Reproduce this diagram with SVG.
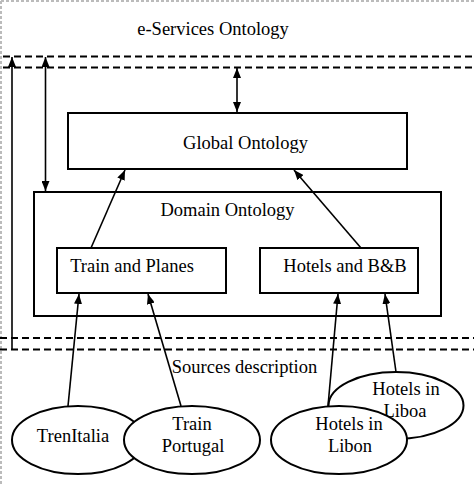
<svg xmlns="http://www.w3.org/2000/svg" width="474" height="485" viewBox="0 0 474 485">
<defs>
<marker id="ah" viewBox="0 0 10 8" refX="10" refY="4" markerWidth="10" markerHeight="8" markerUnits="userSpaceOnUse" orient="auto-start-reverse">
<path d="M0,0 L10,4 L0,8 z" fill="#000"/>
</marker>
<style>
text{font-family:"Liberation Serif","Times New Roman",serif;font-size:18.5px;fill:#000;text-anchor:middle}
.box{fill:#fff;stroke:#000;stroke-width:2}
.ell{fill:#fff;stroke:#000;stroke-width:2}
.dash{stroke:#000;stroke-width:2;stroke-dasharray:7 4;fill:none}
.border{stroke:#bbb;stroke-width:2;stroke-dasharray:3 2;fill:none}
.c{stroke:#000;stroke-width:1.6;fill:none}
</style>
</defs>
<rect width="474" height="485" fill="#fff"/>
<g id="frame">
<line class="border" x1="1" y1="1" x2="474" y2="1"/>
<line class="border" x1="1" y1="1" x2="1" y2="485"/>
</g>
<g id="layers">
<line class="dash" x1="3" y1="56.5" x2="474" y2="56.5"/>
<line class="dash" x1="3" y1="67.5" x2="474" y2="67.5"/>
<line class="dash" x1="0" y1="338" x2="474" y2="338"/>
<line class="dash" x1="0" y1="349.5" x2="474" y2="349.5"/>
<text x="213" y="35">e-Services Ontology</text>
<text x="244.5" y="373">Sources description</text>
</g>
<g id="domain">
<rect class="box" x="34" y="192" width="407" height="124"/>
<text x="227.5" y="216">Domain Ontology</text>
</g>
<g id="global">
<rect class="box" x="68" y="113" width="339" height="56"/>
<text x="245.5" y="149">Global Ontology</text>
</g>
<g id="trains">
<rect class="box" x="57" y="248" width="169" height="45"/>
<text x="132" y="272">Train and Planes</text>
</g>
<g id="hotels">
<rect class="box" x="260" y="248" width="158" height="45"/>
<text x="345" y="272">Hotels and B&amp;B</text>
</g>
<g id="trenitalia">
<ellipse class="ell" cx="78" cy="440" rx="66" ry="34"/>
<text x="73" y="442">TrenItalia</text>
</g>
<g id="trainportugal">
<ellipse class="ell" cx="192" cy="440" rx="68" ry="34"/>
<text x="192" y="430">Train</text>
<text x="193" y="452">Portugal</text>
</g>
<g id="liboa">
<ellipse class="ell" cx="396" cy="405.5" rx="67.5" ry="33.5"/>
<text x="406" y="395">Hotels in</text>
<text x="405" y="417">Liboa</text>
</g>
<g id="libon">
<ellipse class="ell" cx="339" cy="440" rx="68" ry="34"/>
<text x="349" y="430">Hotels in</text>
<text x="350" y="452">Libon</text>
</g>
<g id="connectors">
<line class="c" x1="12" y1="349.5" x2="12" y2="57" marker-end="url(#ah)"/>
<line class="c" x1="45.5" y1="57" x2="45.5" y2="191" marker-start="url(#ah)" marker-end="url(#ah)"/>
<line class="c" x1="237" y1="68" x2="237" y2="112" marker-start="url(#ah)" marker-end="url(#ah)"/>
<line class="c" x1="91" y1="248" x2="125" y2="170" marker-end="url(#ah)"/>
<line class="c" x1="361" y1="248" x2="294" y2="170" marker-end="url(#ah)"/>
<line class="c" x1="68" y1="406" x2="79" y2="294" marker-end="url(#ah)"/>
<line class="c" x1="181" y1="406" x2="148" y2="294" marker-end="url(#ah)"/>
<line class="c" x1="328" y1="406" x2="338" y2="294" marker-end="url(#ah)"/>
<line class="c" x1="396" y1="372" x2="385" y2="294" marker-end="url(#ah)"/>
</g>
</svg>
